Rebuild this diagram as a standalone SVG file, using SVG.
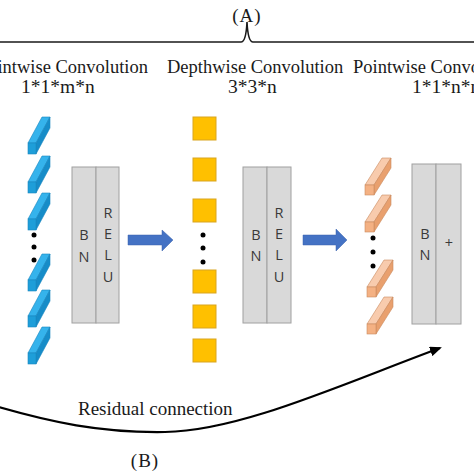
<svg xmlns="http://www.w3.org/2000/svg" xmlns:xlink="http://www.w3.org/1999/xlink" width="474" height="474" viewBox="0 0 474 474">
<style>
.t{font-family:"Liberation Serif","Times New Roman",serif;fill:#1a1a1a}
.s{font-family:"Open Sans","Liberation Sans",Arial,sans-serif;font-size:14.5px;fill:#3a3a3a;text-anchor:middle}
.box{fill:#d9d9d9;stroke:#a0a0a0;stroke-width:1}
.sq{fill:#ffc000;stroke:#d9a520;stroke-width:1}
.arr{fill:#4472c4;stroke:#3a63ad;stroke-width:0.5}
.dot{fill:#000}
</style>
<defs>
<g id="cb">
<polygon points="0,26 8,26 22,0 14,0" fill="#35b3ec" stroke="#1a86bf" stroke-width="0.6"/>
<polygon points="8,26 8,37 22,11 22,0" fill="#168cc8" stroke="#1a86bf" stroke-width="0.6"/>
<rect x="0" y="26" width="8" height="11" fill="#1e9ed9" stroke="#1a86bf" stroke-width="0.6"/>
</g>
<g id="co">
<polygon points="0,27 9,27 26,0 17,0" fill="#f8cbad" stroke="#c98a5e" stroke-width="0.6"/>
<polygon points="9,27 9,37 26,10 26,0" fill="#e9a06e" stroke="#c98a5e" stroke-width="0.6"/>
<rect x="0" y="27" width="9" height="10" fill="#f4b183" stroke="#c98a5e" stroke-width="0.6"/>
</g>
<marker id="ah" markerWidth="12" markerHeight="10" refX="10" refY="5" orient="auto" markerUnits="userSpaceOnUse">
<path d="M0,0 L12,5 L0,10 Z" fill="#000"/>
</marker>
</defs>
<rect width="474" height="474" fill="#fff"/>

<g id="brace">
<path d="M0,42 H241 Q246,42 247,22 Q248,42 253,42 H474" fill="none" stroke="#1a1a1a" stroke-width="1.6"/>
<text class="t" x="247" y="22" font-size="19" text-anchor="middle" letter-spacing="1">(A)</text>
</g>

<g id="titles">
<text class="t" x="148" y="73" font-size="18.5" text-anchor="end">Pointwise Convolution</text>
<text class="t" x="167" y="73" font-size="18.5">Depthwise Convolution</text>
<text class="t" x="353" y="73" font-size="18.5">Pointwise Convolution</text>
<text class="t" x="21" y="93" font-size="19.5">1*1*m*n</text>
<text class="t" x="228" y="93" font-size="19.5">3*3*n</text>
<text class="t" x="412" y="93" font-size="19.5">1*1*n*n</text>
</g>

<g id="pw1-kernels">
<use xlink:href="#cb" x="28" y="117"/>
<use xlink:href="#cb" x="28" y="156"/>
<use xlink:href="#cb" x="28" y="193"/>
<use xlink:href="#cb" x="28" y="254"/>
<use xlink:href="#cb" x="28" y="290"/>
<use xlink:href="#cb" x="28" y="327"/>
<circle class="dot" cx="34" cy="235" r="2.5"/>
<circle class="dot" cx="34" cy="247" r="2.5"/>
<circle class="dot" cx="34" cy="260" r="2.5"/>
</g>

<g id="bn-relu-1">
<rect class="box" x="72" y="167" width="24" height="156"/>
<rect class="box" x="96" y="167" width="23" height="156"/>
<text class="s" x="84" y="240">B</text>
<text class="s" x="84" y="262">N</text>
<text class="s" x="108" y="218">R</text>
<text class="s" x="108" y="239">E</text>
<text class="s" x="108" y="260">L</text>
<text class="s" x="108" y="282">U</text>
</g>

<g id="dw-kernels">
<rect class="sq" x="193" y="117" width="23" height="23"/>
<rect class="sq" x="193" y="158" width="23" height="23"/>
<rect class="sq" x="193" y="199" width="23" height="23"/>
<rect class="sq" x="193" y="270" width="23" height="23"/>
<rect class="sq" x="193" y="305" width="23" height="23"/>
<rect class="sq" x="193" y="339" width="23" height="23"/>
<circle class="dot" cx="203" cy="235" r="2.5"/>
<circle class="dot" cx="203" cy="248" r="2.5"/>
<circle class="dot" cx="203" cy="262" r="2.5"/>
</g>

<g id="bn-relu-2">
<rect class="box" x="243" y="167" width="24" height="156"/>
<rect class="box" x="267" y="167" width="24" height="156"/>
<text class="s" x="256" y="240">B</text>
<text class="s" x="256" y="261">N</text>
<text class="s" x="279" y="218">R</text>
<text class="s" x="279" y="239">E</text>
<text class="s" x="279" y="260">L</text>
<text class="s" x="279" y="282">U</text>
</g>

<g id="pw2-kernels">
<use xlink:href="#co" x="365" y="158"/>
<use xlink:href="#co" x="365" y="195"/>
<use xlink:href="#co" x="367" y="260"/>
<use xlink:href="#co" x="367" y="297"/>
<circle class="dot" cx="373" cy="238" r="2.5"/>
<circle class="dot" cx="373" cy="252" r="2.5"/>
<circle class="dot" cx="373" cy="266" r="2.5"/>
</g>

<g id="bn-add">
<rect class="box" x="412" y="164" width="24" height="160"/>
<rect class="box" x="436" y="164" width="25" height="160"/>
<text class="s" x="425" y="239">B</text>
<text class="s" x="425" y="260">N</text>
<text class="s" x="449" y="248" font-size="13">+</text>
</g>

<g id="connectors">
<polygon class="arr" points="128,235 162,235 162,230 173,240 162,251 162,245 128,245"/>
<polygon class="arr" points="303,235 336,235 336,229 347,240 336,251 336,245 303,245"/>
<path d="M-5,406 C50,422 100,433 165,432 C240,431 340,385 440,348" fill="none" stroke="#000" stroke-width="2.2" marker-end="url(#ah)"/>
<text class="t" x="78" y="415" font-size="19">Residual connection</text>
<text class="t" x="145" y="467" font-size="19" text-anchor="middle" letter-spacing="1">(B)</text>
</g>
</svg>
